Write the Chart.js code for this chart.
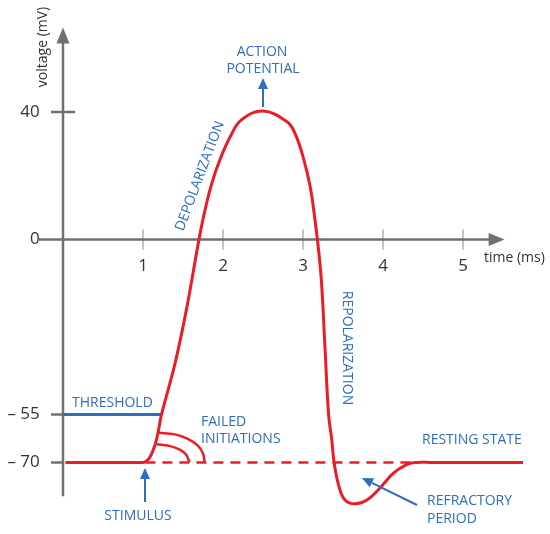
<!DOCTYPE html>
<html>
<head>
<meta charset="utf-8">
<script src="https://cdn.jsdelivr.net/npm/chart.js@4/dist/chart.umd.min.js"></script>
<style>
  html, body { margin: 0; padding: 0; background: #fff; }
  #wrap { width: 550px; height: 534px; position: relative; }
</style>
</head>
<body>
<div id="wrap"><canvas id="apChart"></canvas></div>
<script>
// Action potential trace (time in ms, voltage in mV)
const apTime    = [0.03, 0.5, 0.97, 1.03, 1.09, 1.15, 1.19, 1.23, 1.40, 1.55, 1.70, 1.775, 1.86, 1.96, 2.09, 2.23, 2.50, 2.80, 2.90, 3.00, 3.09, 3.15, 3.19, 3.23, 3.275, 3.32, 3.36, 3.39, 3.45, 3.525, 3.65, 3.80, 3.96, 4.13, 4.30, 4.42, 4.6, 5.75];
const apVoltage = [-70, -70, -70, -69.8, -68.2, -64.5, -60.4, -55.1, -39, -21.1, 0, 9.2, 17.6, 24.9, 32.2, 37.5, 40.3, 36.9, 33.3, 26.0, 16.5, 6.1, -2.3, -13, -34, -55, -63, -70.3, -77.6, -81.8, -83.0, -81.8, -78.1, -73.4, -70.6, -70, -70, -70];

// resting level continued as dashed line
const restTime    = [1.03, 4.40];
const restVoltage = [-70, -70];

// threshold
const thresholdTime    = [0, 1.23];
const thresholdVoltage = [-55, -55];

// failed initiations (two small arcs)
const failBigTime      = [1.19, 1.40, 1.56, 1.68, 1.75, 1.77];
const failBigVoltage   = [-60.7, -61.2, -62.6, -64.6, -67.2, -70];
const failSmallTime    = [1.17, 1.33, 1.46, 1.54, 1.58];
const failSmallVoltage = [-64.3, -64.8, -66.0, -67.6, -70];

// axis ticks
const xTicks = [1, 2, 3, 4, 5];
const yTicks = [40, 0, -55, -70];
const yTickLabels = ['40', '0', '\u2013 55', '\u2013 70'];

const RED = '#ec1c24';
const BLUE = '#2f6dbf';
const AXIS = '#707070';
const FONT = '"Open Sans", sans-serif';

function toPoints(xs, ys) {
  return xs.map((x, i) => ({ x: x, y: ys[i] }));
}

// axes with arrows, ticks and all the labels
const diagramPlugin = {
  id: 'diagram',
  beforeDatasetsDraw(chart) {
    const ctx = chart.ctx;
    const xs = chart.scales.x, ys = chart.scales.y;
    const X = v => xs.getPixelForValue(v);
    const Y = v => ys.getPixelForValue(v);
    ctx.save();

    // x tick marks
    ctx.strokeStyle = '#b0b0b0';
    ctx.lineWidth = 1.5;
    xTicks.forEach(t => {
      ctx.beginPath();
      ctx.moveTo(X(t), Y(0) - 10);
      ctx.lineTo(X(t), Y(0) + 10);
      ctx.stroke();
    });

    // axis lines
    ctx.strokeStyle = AXIS;
    ctx.lineWidth = 2.5;
    ctx.beginPath();
    ctx.moveTo(X(0), Y(-80.6));
    ctx.lineTo(X(0), Y(62));
    ctx.moveTo(X(-0.3), Y(0));
    ctx.lineTo(X(5.35), Y(0));
    // y ticks
    ctx.moveTo(X(-0.15), Y(40));
    ctx.lineTo(X(0.15), Y(40));
    ctx.moveTo(X(-0.15), Y(-55));
    ctx.lineTo(X(0), Y(-55));
    ctx.moveTo(X(-0.15), Y(-70));
    ctx.lineTo(X(0), Y(-70));
    ctx.stroke();

    // arrow heads
    ctx.fillStyle = AXIS;
    const yTop = Y(66.5), xTip = X(5.52);
    ctx.beginPath();
    ctx.moveTo(X(0), yTop);
    ctx.lineTo(X(0) - 6.5, yTop + 16);
    ctx.lineTo(X(0) + 6.5, yTop + 16);
    ctx.closePath();
    ctx.fill();
    ctx.beginPath();
    ctx.moveTo(xTip, Y(0));
    ctx.lineTo(xTip - 16, Y(0) - 6.5);
    ctx.lineTo(xTip - 16, Y(0) + 6.5);
    ctx.closePath();
    ctx.fill();

    // tick labels
    ctx.fillStyle = '#333';
    ctx.font = '17px ' + FONT;
    ctx.textBaseline = 'middle';
    ctx.textAlign = 'right';
    yTicks.forEach((t, i) => ctx.fillText(yTickLabels[i], X(-0.29), Y(t)));
    ctx.textAlign = 'center';
    xTicks.forEach(t => ctx.fillText(String(t), X(t), Y(0) + 27));

    // axis titles
    ctx.font = '14px ' + FONT;
    ctx.textAlign = 'left';
    ctx.fillText('time (ms)', 484, 258);
    ctx.save();
    ctx.translate(43, 47);
    ctx.rotate(-Math.PI / 2);
    ctx.textAlign = 'center';
    ctx.fillText('voltage (mV)', 0, 0);
    ctx.restore();

    ctx.restore();
  },
  afterDatasetsDraw(chart) {
    const ctx = chart.ctx;
    ctx.save();
    ctx.fillStyle = BLUE;
    ctx.strokeStyle = BLUE;
    ctx.font = '14px ' + FONT;
    ctx.textBaseline = 'middle';

    ctx.textAlign = 'center';
    ctx.fillText('ACTION', 262, 52);
    ctx.fillText('POTENTIAL', 263, 69);
    ctx.fillText('STIMULUS', 138, 516);

    ctx.textAlign = 'left';
    ctx.fillText('THRESHOLD', 72, 403);
    ctx.fillText('FAILED', 201, 422);
    ctx.fillText('INITIATIONS', 201, 439);
    ctx.fillText('RESTING STATE', 422, 440);
    ctx.fillText('REFRACTORY', 427, 501);
    ctx.fillText('PERIOD', 427, 519);

    // rotated labels
    ctx.textAlign = 'center';
    ctx.save();
    ctx.translate(200, 176);
    ctx.rotate(-69.4 * Math.PI / 180);
    ctx.fillText('DEPOLARIZATION', 0, 0);
    ctx.restore();
    ctx.save();
    ctx.translate(347, 348);
    ctx.rotate(Math.PI / 2);
    ctx.fillText('REPOLARIZATION', 0, 0);
    ctx.restore();

    // annotation arrows
    function arrow(x1, y1, x2, y2) {
      const a = Math.atan2(y2 - y1, x2 - x1);
      const len = 11, half = 5;
      const bx = x2 - len * Math.cos(a), by = y2 - len * Math.sin(a);
      ctx.lineWidth = 2;
      ctx.beginPath();
      ctx.moveTo(x1, y1);
      ctx.lineTo(bx, by);
      ctx.stroke();
      ctx.beginPath();
      ctx.moveTo(x2, y2);
      ctx.lineTo(bx + half * Math.sin(a), by - half * Math.cos(a));
      ctx.lineTo(bx - half * Math.sin(a), by + half * Math.cos(a));
      ctx.closePath();
      ctx.fill();
    }
    arrow(263, 107, 263, 78);
    arrow(145, 502, 145, 468);
    arrow(417, 505, 362, 478);

    ctx.restore();
  }
};

const ctx = document.getElementById('apChart').getContext('2d');
const apChart = new Chart(ctx, {
  type: 'line',
  data: {
    datasets: [
      {
        label: 'Membrane potential',
        data: toPoints(apTime, apVoltage),
        borderColor: RED,
        borderWidth: 3,
        tension: 0.4,
        pointRadius: 0
      },
      {
        label: 'Resting',
        data: toPoints(restTime, restVoltage),
        borderColor: RED,
        borderWidth: 2.5,
        borderDash: [10, 7],
        pointRadius: 0
      },
      {
        label: 'Threshold',
        data: toPoints(thresholdTime, thresholdVoltage),
        borderColor: BLUE,
        borderWidth: 3,
        pointRadius: 0
      },
      {
        label: 'Failed initiation 1',
        data: toPoints(failBigTime, failBigVoltage),
        borderColor: RED,
        borderWidth: 2.5,
        tension: 0.4,
        pointRadius: 0
      },
      {
        label: 'Failed initiation 2',
        data: toPoints(failSmallTime, failSmallVoltage),
        borderColor: RED,
        borderWidth: 2.5,
        tension: 0.4,
        pointRadius: 0
      }
    ]
  },
  options: {
    responsive: true,
    maintainAspectRatio: false,
    animation: false,
    layout: { padding: 0 },
    plugins: {
      legend: { display: false },
      tooltip: { enabled: false }
    },
    scales: {
      x: { type: 'linear', min: -0.7875, max: 6.0875, display: false },
      y: { type: 'linear', min: -92.47, max: 75.14, display: false }
    }
  },
  plugins: [diagramPlugin]
});
</script>
</body>
</html>
